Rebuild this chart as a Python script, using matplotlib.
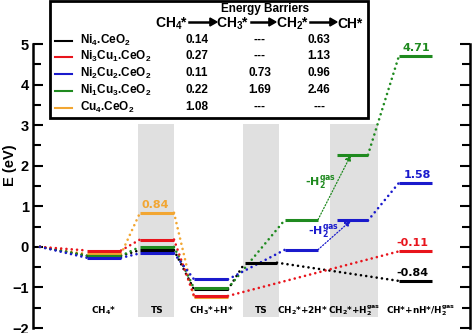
import matplotlib
matplotlib.use("Agg")
import matplotlib.pyplot as plt
from matplotlib.patches import Rectangle

plt.rcParams['font.family'] = ['Liberation Sans', 'DejaVu Sans']
plt.rcParams['font.weight'] = 'bold'
plt.rcParams['mathtext.default'] = 'regular'

W, H = 474, 333

# reaction states (pixel-like x layout on the axis)
states = ["", "CH$_4$*", "TS", "CH$_3$*+H*", "TS", "CH$_2$*+2H*",
          "CH$_2$*+H$_2^{gas}$", "CH*+$n$H*/H$_2^{gas}$"]
lvl_start = [37, 87, 140, 194, 245, 285, 337, 399]
lvl_end = [40, 121, 174, 228, 277, 318, 368, 432]
label_x = [0, 104, 157, 211, 261, 302, 354, 421]
bands = [(138, 174), (243, 279), (330, 378)]

catalysts = ["Ni$_4$.CeO$_2$", "Ni$_3$Cu$_1$.CeO$_2$", "Ni$_2$Cu$_2$.CeO$_2$",
             "Ni$_1$Cu$_3$.CeO$_2$", "Cu$_4$.CeO$_2$"]
colors = ["#000000", "#e8141c", "#1a1acc", "#1f8a1f", "#f2a632"]

# energies (eV) per state, None = not computed
E_ni4 = [0, -0.22, -0.08, -1.05, -0.39, None, None, -0.84]
E_ni3cu1 = [0, -0.09, 0.18, -1.21, None, None, None, -0.11]
E_ni2cu2 = [0, -0.27, -0.16, -0.80, None, -0.07, 0.65, 1.58]
E_ni1cu3 = [0, -0.22, 0.00, -1.02, None, 0.67, 2.27, 4.71]
E_cu4 = [0, -0.18, 0.84, -1.24, None, None, None, None]
energies = [E_ni4, E_ni3cu1, E_ni2cu2, E_ni1cu3, E_cu4]

# table of barriers
bar_1 = ["0.14", "0.27", "0.11", "0.22", "1.08"]
bar_2 = ["---", "---", "0.73", "1.69", "---"]
bar_3 = ["0.63", "1.13", "0.96", "2.46", "---"]

fig = plt.figure(figsize=(W / 100, H / 100), dpi=100)
ax = fig.add_axes([33 / W, 1 - 328 / H, (470 - 33) / W, (328 - 44) / H])
ax.set_xlim(33, 470)
ax.set_ylim(-2, 5)

for x0, x1 in bands:
    ax.add_patch(Rectangle((x0, -1.72), x1 - x0, 4.75, color="#e0e0e0", lw=0, zorder=0))

# arrows (H2 desorption) drawn separately
arrow_steps = {2: 5, 3: 5}

order = [4, 0, 3, 1, 2]
for k in order:
    E = energies[k]
    c = colors[k]
    pts = [i for i, e in enumerate(E) if e is not None]
    for a, b in zip(pts[:-1], pts[1:]):
        if arrow_steps.get(k) == a:
            ax.annotate("", xy=(lvl_start[b] + 14, E[b]), xytext=(lvl_end[a], E[a]),
                        arrowprops=dict(arrowstyle="-|>", color=c, lw=0.9,
                                        linestyle=(0, (1, 1.5)), mutation_scale=9,
                                        shrinkA=0, shrinkB=0))
        else:
            ax.plot([lvl_end[a], lvl_start[b]], [E[a], E[b]], color=c, lw=1.9,
                    linestyle=(0, (0.01, 2.0)), dash_capstyle="round", zorder=2)
    for i in pts[1:]:
        ax.plot([lvl_start[i], lvl_end[i]], [E[i], E[i]], color=c, lw=2.2,
                solid_capstyle="butt", zorder=3)

# value labels
lab_font = dict(family="DejaVu Sans", fontsize=8, ha="center", va="bottom")
ax.text(155, E_cu4[2] + 0.08, "0.84", color=colors[4], **lab_font)
ax.text(416, E_ni1cu3[7] + 0.08, "4.71", color=colors[3], **lab_font)
ax.text(417, E_ni2cu2[7] + 0.08, "1.58", color=colors[2], **lab_font)
ax.text(412, E_ni3cu1[7] + 0.08, "-0.11", color=colors[1], **lab_font)
ax.text(412, E_ni4[7] + 0.08, "-0.84", color=colors[0], **lab_font)
ax.text(321, 1.58, "-H$_2^{gas}$", color=colors[3], family="DejaVu Sans", fontsize=8,
        ha="center", va="center")
ax.text(324, 0.37, "-H$_2^{gas}$", color=colors[2], family="DejaVu Sans", fontsize=8,
        ha="center", va="center")

for i in range(1, len(states)):
    ax.text(label_x[i], -1.57, states[i], family="DejaVu Sans", fontsize=6.4,
            ha="center", va="center")

# axis styling
for s in ["top", "bottom"]:
    ax.spines[s].set_visible(False)
for s in ["left", "right"]:
    ax.spines[s].set_linewidth(1.8)
ax.set_xticks([])
ax.set_yticks(range(-2, 6))
ax.set_yticks([y + 0.5 for y in range(-2, 5)], minor=True)
ax.tick_params(axis="y", which="both", direction="in", left=True, right=True,
               width=1.5, labelsize=10.5, pad=3)
ax.tick_params(axis="y", which="major", length=7)
ax.tick_params(axis="y", which="minor", length=6)
for lab in ax.get_yticklabels():
    lab.set_fontweight("bold")


def fx(x):
    return x / W


def fy(y):
    return 1 - y / H


fig.text(fx(10), fy(165), "E (eV)", fontsize=10.5, rotation=90, ha="center", va="center")

# barrier table in figure space
fig.patches.append(Rectangle((fx(50), fy(118)), fx(368) - fx(50), fy(1) - fy(118),
                             transform=fig.transFigure, fill=False, ec="black", lw=2,
                             figure=fig, zorder=5))
fig.patches.append(Rectangle((fx(50), fy(118)), fx(368) - fx(50), fy(1) - fy(118),
                             transform=fig.transFigure, fc="white", ec="none",
                             figure=fig, zorder=4))
fig.text(fx(265), fy(9), "Energy Barriers", fontsize=8.5, ha="center", va="center", zorder=6)
head = ["CH$_4$*", "CH$_3$*", "CH$_2$*", "CH*"]
head_x = [172, 233, 293, 350]
for t, x in zip(head, head_x):
    fig.text(fx(x), fy(24), t, fontsize=10, ha="center", va="center", zorder=6)
for x0, x1 in [(189, 217), (251, 276), (310, 337)]:
    fig.add_artist(plt.Line2D([fx(x0), fx(x1) - 0.012], [fy(22), fy(22)], color="black",
                              lw=1.8, transform=fig.transFigure, zorder=6))
    fig.add_artist(plt.Polygon([[fx(x1), fy(22)], [fx(x1) - 0.015, fy(22) + 0.012],
                                [fx(x1) - 0.015, fy(22) - 0.012]], closed=True,
                               color="black", transform=fig.transFigure, zorder=6))
row_y = [40, 56, 73, 90, 107]
for k in range(5):
    y = row_y[k]
    fig.add_artist(plt.Line2D([fx(55), fx(72)], [fy(y + 1), fy(y + 1)], color=colors[k],
                              lw=1.5, transform=fig.transFigure, zorder=6))
    fig.text(fx(80), fy(y), catalysts[k], fontsize=8.5, ha="left", va="center", zorder=6)
    fig.text(fx(197), fy(y), bar_1[k], fontsize=8.5, ha="center", va="center", zorder=6)
    fig.text(fx(260), fy(y), bar_2[k], fontsize=8.5, ha="center", va="center", zorder=6)
    fig.text(fx(319), fy(y), bar_3[k], fontsize=8.5, ha="center", va="center", zorder=6)

fig.savefig("out.png", dpi=100)
